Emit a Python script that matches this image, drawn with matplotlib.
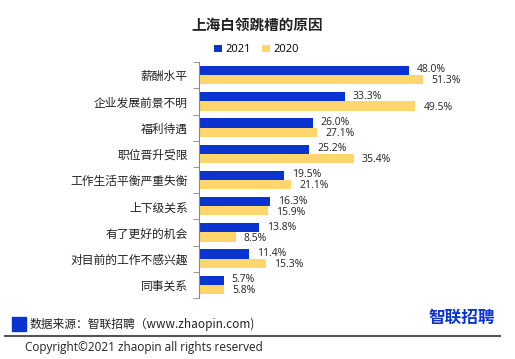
import matplotlib
matplotlib.use("Agg")
import matplotlib.pyplot as plt
import numpy as np
from matplotlib.patches import Rectangle

plt.rcParams["font.family"] = ["Noto Sans CJK SC", "DejaVu Sans"]

categories = ["薪酬水平", "企业发展前景不明", "福利待遇", "职位晋升受限", "工作生活平衡严重失衡",
              "上下级关系", "有了更好的机会", "对目前的工作不感兴趣", "同事关系"]
values_2021 = [48.0, 33.3, 26.0, 25.2, 19.5, 16.3, 13.8, 11.4, 5.7]
values_2020 = [51.3, 49.5, 27.1, 35.4, 21.1, 15.9, 8.5, 15.3, 5.8]
series_names = ["2021", "2020"]

BLUE = "#0A33D0"
YELLOW = "#FFD66B"

fig = plt.figure(figsize=(5.15, 3.59), dpi=100)
ax = fig.add_axes([0.386, 0.170, 0.51, 0.657])

y = np.arange(len(categories))
h = 0.35
ax.barh(y - h / 2, values_2021, height=h, color=BLUE, label=series_names[0])
ax.barh(y + h / 2, values_2020, height=h, color=YELLOW, label=series_names[1])

# value labels, nudged apart a little so they don't collide
for yi, v in zip(y, values_2021):
    ax.text(v + 1.8, yi - 0.2, f"{v:.1f}%", va="center", ha="left",
            fontsize=7.5, family="Open Sans", color="#222222")
for yi, v in zip(y, values_2020):
    ax.text(v + 1.8, yi + 0.22, f"{v:.1f}%", va="center", ha="left",
            fontsize=7.5, family="Open Sans", color="#222222")

ax.set_xlim(0, 60)
ax.set_ylim(len(categories) - 0.5, -0.5)
ax.set_yticks(y)
ax.set_yticklabels(categories, fontsize=8.5, color="#222222")
ax.set_yticks(np.arange(len(categories) + 1) - 0.5, minor=True)
ax.tick_params(axis="y", which="major", length=0, pad=8)
ax.tick_params(axis="y", which="minor", length=4, color="#888888")
ax.set_xticks([])
for s in ["top", "right", "bottom"]:
    ax.spines[s].set_visible(False)
ax.spines["left"].set_color("#888888")

fig.text(0.5, 0.93, "上海白领跳槽的原因", ha="center", va="center",
         fontsize=10.5, fontweight="bold", color="#222222")
ax.legend(loc="lower center", bbox_to_anchor=(0.22, 1.0), ncol=2, frameon=False,
          handlelength=0.7, handleheight=0.7, columnspacing=1.0,
          handletextpad=0.3, borderaxespad=0.2, prop={"family": "Open Sans", "size": 8})

# footer
fig.patches.append(Rectangle((12 / 515, 1 - 331 / 359), 14 / 515, 14 / 359,
                             transform=fig.transFigure, color=BLUE))
fig.text(30 / 515, 1 - 324 / 359, "数据来源：智联招聘（www.zhaopin.com)", ha="left", va="center",
         fontsize=8.5, color="#222222")
fig.lines.append(plt.Line2D([5 / 515, 500 / 515], [1 - 336 / 359, 1 - 336 / 359],
                            transform=fig.transFigure, color="#555555", lw=1.5))
fig.text(25 / 515, 1 - 348 / 359, "Copyright©2021 zhaopin all rights reserved", ha="left",
         va="center", fontsize=8.5, family="Open Sans", color="#222222")
fig.text(462 / 515, 1 - 318 / 359, "智联招聘", ha="center", va="center", fontsize=12,
         fontweight="bold", color=BLUE)

fig.savefig("out.png", dpi=100)
